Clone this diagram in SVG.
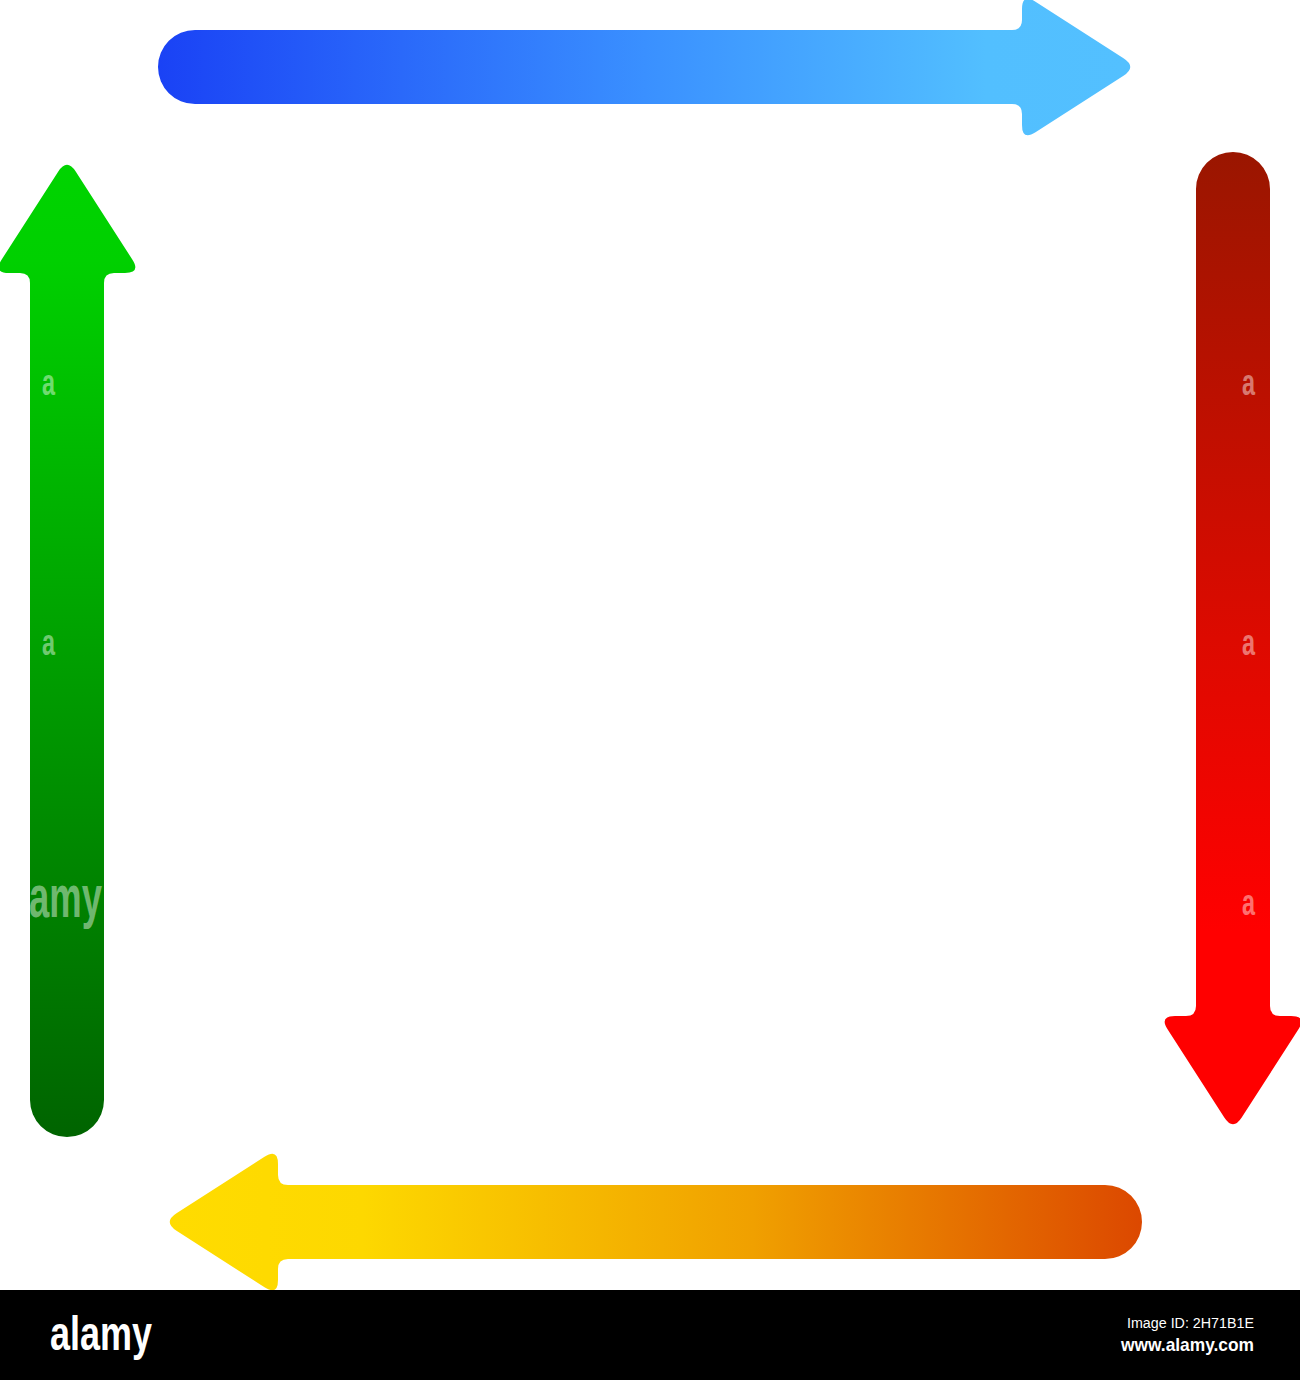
<svg xmlns="http://www.w3.org/2000/svg" xmlns:xlink="http://www.w3.org/1999/xlink" width="1300" height="1380" viewBox="0 0 1300 1380">
<style>
.wm{font-family:"Liberation Sans",Arial,sans-serif;fill:#ffffff}
.ghost{font-family:"Liberation Sans",Arial,sans-serif;font-weight:bold;fill:#ffffff;fill-opacity:0.45}
</style>
<defs>
<linearGradient id="gBlue" gradientUnits="userSpaceOnUse" x1="0" y1="0" x2="974" y2="0">
<stop offset="0" stop-color="#1a42f5"/><stop offset="0.5" stop-color="#3a90ff"/><stop offset="0.85" stop-color="#52bfff"/><stop offset="1" stop-color="#53c0ff"/>
</linearGradient>
<linearGradient id="gGreen" gradientUnits="userSpaceOnUse" x1="0" y1="0" x2="974" y2="0">
<stop offset="0" stop-color="#006400"/><stop offset="0.5" stop-color="#00a000"/><stop offset="0.9" stop-color="#00d000"/><stop offset="1" stop-color="#00d400"/>
</linearGradient>
<linearGradient id="gRed" gradientUnits="userSpaceOnUse" x1="0" y1="0" x2="974" y2="0">
<stop offset="0" stop-color="#9a1600"/><stop offset="0.5" stop-color="#dd0a00"/><stop offset="0.8" stop-color="#ff0000"/><stop offset="1" stop-color="#ff0000"/>
</linearGradient>
<linearGradient id="gYellow" gradientUnits="userSpaceOnUse" x1="0" y1="0" x2="974" y2="0">
<stop offset="0" stop-color="#dc4800"/><stop offset="0.4" stop-color="#f0a000"/><stop offset="0.8" stop-color="#fdd800"/><stop offset="1" stop-color="#ffdc00"/>
</linearGradient>
<path id="arrowShape" d="M37,-37 L854,-37 Q864,-37 864,-47 L864,-58 Q864,-74 877.5,-65.3 L965.5,-8.7 Q979,0 965.5,8.7 L877.5,65.3 Q864,74 864,58 L864,47 Q864,37 854,37 L37,37 A37,37 0 0 1 37,-37 Z"/>
</defs>
<rect x="0" y="0" width="1300" height="1380" fill="#ffffff"/>
<g id="connectors">
<g id="arrow-top"><use xlink:href="#arrowShape" fill="url(#gBlue)" transform="translate(158,67)"/></g>
<g id="arrow-right"><use xlink:href="#arrowShape" fill="url(#gRed)" transform="translate(1233,152) rotate(90)"/></g>
<g id="arrow-bottom"><use xlink:href="#arrowShape" fill="url(#gYellow)" transform="translate(1142,1222) rotate(180)"/></g>
<g id="arrow-left"><use xlink:href="#arrowShape" fill="url(#gGreen)" transform="translate(67,1137) rotate(-90)"/></g>
</g>
<g id="ghost-watermarks">
<text class="ghost" x="42" y="395" font-size="37" textLength="13" lengthAdjust="spacingAndGlyphs">a</text>
<text class="ghost" x="42" y="655" font-size="37" textLength="13" lengthAdjust="spacingAndGlyphs">a</text>
<text class="ghost" x="1242" y="395" font-size="37" textLength="13" lengthAdjust="spacingAndGlyphs">a</text>
<text class="ghost" x="1242" y="655" font-size="37" textLength="13" lengthAdjust="spacingAndGlyphs">a</text>
<text class="ghost" x="1242" y="915" font-size="37" textLength="13" lengthAdjust="spacingAndGlyphs">a</text>
<text class="ghost" x="29" y="917" font-size="60" textLength="73" lengthAdjust="spacingAndGlyphs">amy</text>
</g>
<g id="watermark-bar">
<rect x="0" y="1290" width="1300" height="90" fill="#000000"/>
<text class="wm" x="50" y="1350" font-size="48" font-weight="bold" textLength="102" lengthAdjust="spacingAndGlyphs">alamy</text>
<text class="wm" x="1254" y="1328" font-size="14" text-anchor="end" textLength="127" lengthAdjust="spacingAndGlyphs">Image ID: 2H71B1E</text>
<text class="wm" x="1254" y="1351" font-size="19" font-weight="bold" text-anchor="end" textLength="133" lengthAdjust="spacingAndGlyphs">www.alamy.com</text>
</g>
</svg>
